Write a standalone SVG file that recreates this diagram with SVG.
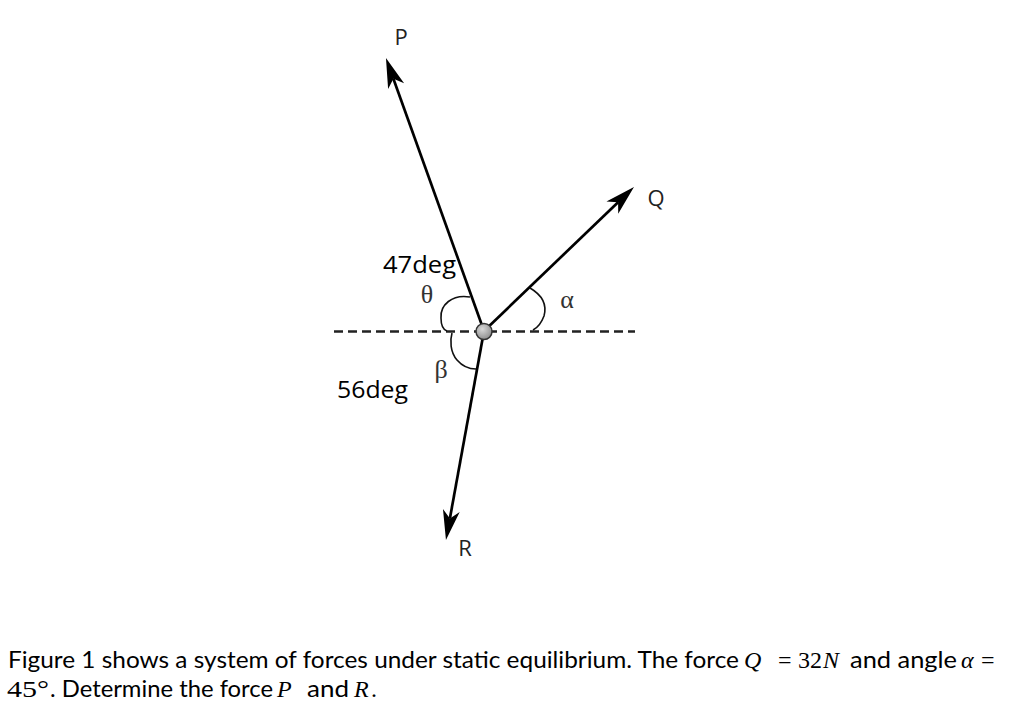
<svg xmlns="http://www.w3.org/2000/svg" width="1027" height="727" viewBox="0 0 1027 727">
<style>
.ln{stroke:#000;stroke-width:2.7;fill:none}
.dash{stroke:#222;stroke-width:2.7;stroke-dasharray:9 5;fill:none}
.arc{stroke:#111;stroke-width:1.6;fill:none}
.lbl{font-family:"Open Sans","Liberation Sans",sans-serif;font-size:22px;fill:#222}
.deg{font-family:"Open Sans","Liberation Sans",sans-serif;font-size:24px;fill:#000}
.gr{font-family:"Liberation Serif","DejaVu Serif",serif;font-size:26px;fill:#333}
.body{font-family:Lato,"Open Sans","Liberation Sans",sans-serif;font-size:23px;fill:#000}
.m{font-family:"Liberation Serif","DejaVu Serif",serif;font-size:24px;fill:#000}
.mi{font-family:"Liberation Serif","DejaVu Serif",serif;font-size:24px;font-style:italic;fill:#000}
</style>
<defs>
<marker id="ah" markerUnits="userSpaceOnUse" orient="auto" markerWidth="40" markerHeight="24" viewBox="-10 -12 40 24" refX="0" refY="0">
<path d="M22,0 L-8,-8.5 L0,0 L-8,8.5 Z" fill="#000"/>
</marker>
<radialGradient id="ball" cx="0.4" cy="0.35" r="0.7">
<stop offset="0" stop-color="#d8d8d8"/>
<stop offset="1" stop-color="#8a8a8a"/>
</radialGradient>
</defs>
<rect width="1027" height="727" fill="#fff"/>
<g id="reference-line">
<line class="dash" x1="334" y1="331.5" x2="635" y2="331.5"/>
</g>
<g id="connectors">
<line id="force-P" class="ln" x1="484" y1="331" x2="393.4" y2="78.7" marker-end="url(#ah)"/>
<line id="force-Q" class="ln" x1="484" y1="331" x2="618.1" y2="202.2" marker-end="url(#ah)"/>
<line id="force-R" class="ln" x1="484" y1="331" x2="449.9" y2="518.4" marker-end="url(#ah)"/>
</g>
<g id="angle-arcs">
<path id="arc-theta" class="arc" d="M470,297 C452,294 440,305 441,318 C441,326 444,330 447,331"/>
<path id="arc-beta" class="arc" d="M452,333 C450,340 450,352 457,360 C463,367 470,369 476,369"/>
<path id="arc-alpha" class="arc" d="M530,288 C542,295 547,305 544,316 C541,324 537,328 533,330"/>
</g>
<g id="node-center">
<circle cx="484" cy="331.5" r="8" fill="url(#ball)" stroke="#333" stroke-width="1.5"/>
</g>
<g id="labels">
<text class="lbl" x="401" y="45" text-anchor="middle">P</text>
<text class="lbl" x="656" y="206" text-anchor="middle">Q</text>
<text class="lbl" x="465" y="556" text-anchor="middle">R</text>
<text class="deg" x="383" y="273" textLength="73" lengthAdjust="spacingAndGlyphs">47deg</text>
<text class="deg" x="337" y="398" textLength="71" lengthAdjust="spacingAndGlyphs">56deg</text>
<text class="gr" x="427" y="303" text-anchor="middle">θ</text>
<text class="gr" x="567" y="308" text-anchor="middle">α</text>
<text class="gr" x="441" y="378" text-anchor="middle">β</text>
</g>
<g id="caption">
<text class="body" x="8" y="668" textLength="731" lengthAdjust="spacingAndGlyphs">Figure 1 shows a system of forces under static equilibrium. The force</text>
<text class="mi" x="744" y="668">Q</text>
<text class="m" x="778" y="668">=</text>
<text class="m" x="798" y="668">32</text>
<text class="mi" x="823" y="668">N</text>
<text class="body" x="850" y="668" textLength="107" lengthAdjust="spacingAndGlyphs">and angle</text>
<text class="mi" x="961" y="668">α</text>
<text class="m" x="981" y="668">=</text>
<text class="m" x="7" y="697" textLength="42" lengthAdjust="spacingAndGlyphs">45°</text>
<text class="body" x="50" y="697" textLength="223" lengthAdjust="spacingAndGlyphs">. Determine the force</text>
<text class="mi" x="277" y="697">P</text>
<text class="body" x="307" y="697" textLength="42" lengthAdjust="spacingAndGlyphs">and</text>
<text class="mi" x="354" y="697">R</text>
<text class="m" x="371" y="697">.</text>
</g>
</svg>
